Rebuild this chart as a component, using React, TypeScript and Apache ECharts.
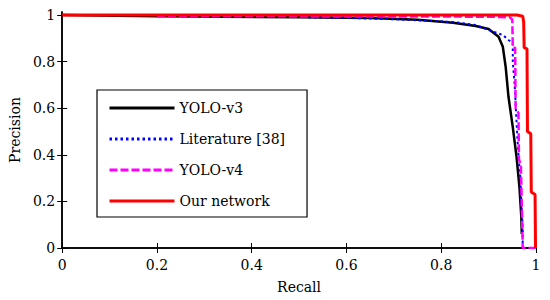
import React, { useEffect, useRef } from "react";
import * as echarts from "echarts";

const seriesNames = ["YOLO-v3", "Literature [38]", "YOLO-v4", "Our network"];
const tickValues = [0, 0.2, 0.4, 0.6, 0.8, 1];

const yoloV3: [number, number][] = [
  [0, 1], [0.2, 0.995], [0.5, 0.99], [0.65, 0.987], [0.75, 0.98], [0.825, 0.967],
  [0.873, 0.953], [0.9, 0.94], [0.921, 0.907], [0.93, 0.864], [0.936, 0.777],
  [0.942, 0.648], [0.951, 0.519], [0.959, 0.39], [0.965, 0.262], [0.969, 0.133], [0.97, 0.06],
];
const literature38: [number, number][] = [
  [0.52, 0.99], [0.6, 0.988], [0.7, 0.982], [0.768, 0.976], [0.825, 0.97], [0.873, 0.957],
  [0.9, 0.936], [0.93, 0.914], [0.942, 0.893], [0.951, 0.88], [0.951, 0.8], [0.955, 0.7],
  [0.96, 0.5], [0.963, 0.4], [0.967, 0.3], [0.969, 0.2], [0.972, 0.08], [0.972, 0],
];
const yoloV4: [number, number][] = [
  [0.2, 0.995], [0.9, 0.993], [0.945, 0.99], [0.95, 0.98], [0.951, 0.86], [0.956, 0.86],
  [0.957, 0.6], [0.963, 0.58], [0.964, 0.38], [0.968, 0.36], [0.971, 0.1], [0.972, 0], [1, 0],
];
const ourNetwork: [number, number][] = [
  [0, 1], [0.96, 1], [0.972, 0.995], [0.974, 0.97], [0.975, 0.86], [0.981, 0.855],
  [0.982, 0.5], [0.989, 0.49], [0.99, 0.24], [0.998, 0.23], [0.999, 0],
];

const FONT = "DejaVu Serif";

export default function App() {
  const ref = useRef<HTMLDivElement>(null);
  useEffect(() => {
    if (!ref.current) return;
    const chart = echarts.init(ref.current, null, { renderer: "svg" });
    const axisLine = { show: true, lineStyle: { color: "#000", width: 1.5 } };
    const tick = { show: true, inside: true, length: 5, lineStyle: { color: "#000", width: 1 }, customValues: tickValues };
    const mk = (name: string, data: [number, number][], color: string, width: number, type: any) => ({
      name,
      type: "line",
      data,
      showSymbol: false,
      symbol: "none",
      xAxisIndex: 0,
      yAxisIndex: 0,
      lineStyle: { color, width, type },
      itemStyle: { color: "rgba(0,0,0,0)", borderWidth: 0 },
      z: 2,
    });
    chart.setOption({
      animation: false,
      backgroundColor: "#fff",
      grid: { left: 59, right: 14, top: 12, bottom: 52 },
      legend: {
        orient: "vertical",
        left: 97,
        top: 90,
        data: seriesNames,
        selectedMode: false,
        itemWidth: 65,
        itemHeight: 14,
        itemGap: 17,
        padding: [11, 22, 9, 11],
        backgroundColor: "#fff",
        borderColor: "#000",
        borderWidth: 1.2,
        borderRadius: 0,
        lineStyle: { width: 3 },
        itemStyle: { color: "rgba(0,0,0,0)", borderWidth: 0, opacity: 0 },
        textStyle: { fontFamily: FONT, fontSize: 14, color: "#000" },
      },
      xAxis: [
        {
          type: "value", min: 0, max: 1, position: "bottom",
          name: "Recall", nameLocation: "middle", nameGap: 32,
          nameTextStyle: { fontFamily: FONT, fontSize: 14, color: "#000" },
          axisLine, axisTick: tick, splitLine: { show: false },
          axisLabel: { customValues: tickValues, fontFamily: FONT, fontSize: 14, color: "#000", margin: 10, formatter: (v: number) => String(Number(v.toFixed(1))) },
        },
        {
          type: "value", min: 0, max: 1, position: "top",
          axisLine, axisTick: tick, splitLine: { show: false }, axisLabel: { show: false },
        },
      ],
      yAxis: [
        {
          type: "value", min: 0, max: 1.013, position: "left",
          name: "Precision", nameLocation: "middle", nameGap: 37,
          nameTextStyle: { fontFamily: FONT, fontSize: 14, color: "#000" },
          axisLine, axisTick: tick, splitLine: { show: false },
          axisLabel: { customValues: tickValues, fontFamily: FONT, fontSize: 14, color: "#000", margin: 7, formatter: (v: number) => String(Number(v.toFixed(1))) },
        },
        {
          type: "value", min: 0, max: 1.013, position: "right",
          axisLine, axisTick: tick, splitLine: { show: false }, axisLabel: { show: false },
        },
      ],
      series: [
        mk(seriesNames[0], yoloV3, "#000000", 2.5, "solid"),
        mk(seriesNames[1], literature38, "#0000ff", 2, [2.5, 3]),
        mk(seriesNames[2], yoloV4, "#ff00ff", 2.5, [8, 3]),
        mk(seriesNames[3], ourNetwork, "#ff0000", 3, "solid"),
      ],
    });
    return () => chart.dispose();
  }, []);
  return <div ref={ref} style={{ position: "absolute", left: 0, top: 0, width: 550, height: 300 }} />;
}
